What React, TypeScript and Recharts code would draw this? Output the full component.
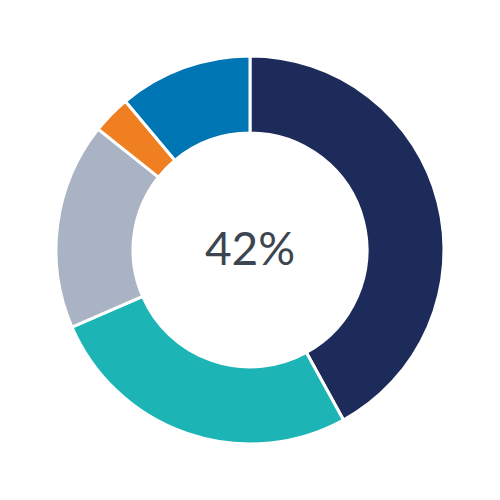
import React from "react";
import { PieChart, Pie, Cell } from "recharts";

const categories = ["A", "B", "C", "D", "E"];
const values = [42, 26.5, 17.2, 3.2, 11.1];
const colors = ["#1c2b5a", "#1cb4b5", "#a9b3c3", "#f07f22", "#0075b3"];
const centerLabel = "42%";

const data = categories.map((name, i) => ({ name, value: values[i] }));

export default function App() {
  return (
    <div style={{ width: 500, height: 500, position: "absolute", left: 0, top: 0 }}>
      <PieChart width={500} height={500} margin={{ top: 0, right: 0, bottom: 0, left: 0 }}>
        <Pie
          data={data}
          dataKey="value"
          cx={250}
          cy={250}
          innerRadius={117}
          outerRadius={194}
          startAngle={90}
          endAngle={-270}
          stroke="#ffffff"
          strokeWidth={3}
          isAnimationActive={false}
        >
          {data.map((d, i) => (
            <Cell key={d.name} fill={colors[i]} />
          ))}
        </Pie>
        <text
          x={250}
          y={247}
          textAnchor="middle"
          dominantBaseline="central"
          fontFamily="Lato, sans-serif"
          fontSize={46}
          fill="#3d4550"
        >
          {centerLabel}
        </text>
      </PieChart>
    </div>
  );
}
